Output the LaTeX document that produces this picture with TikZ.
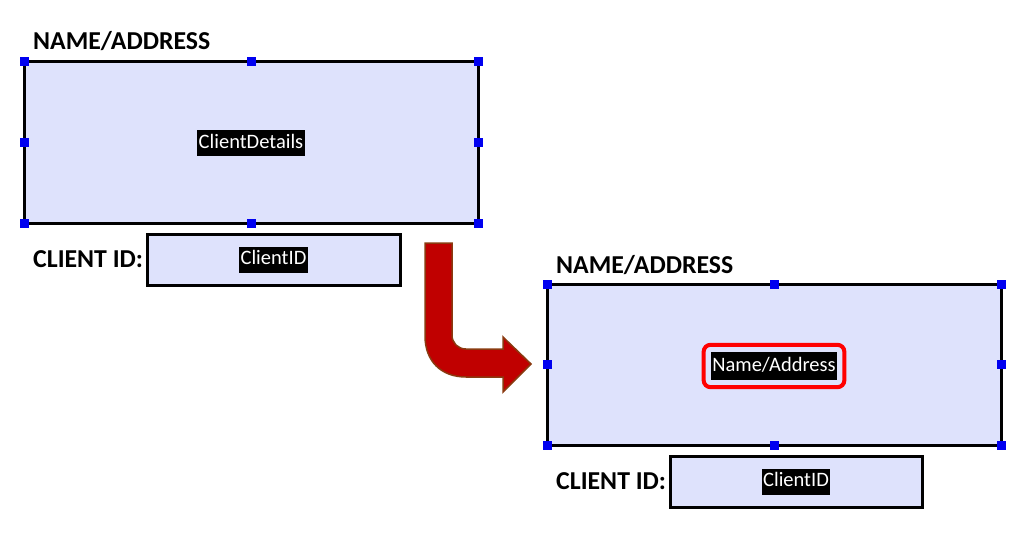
\documentclass[tikz,border=0pt]{standalone}
\usepackage{fontspec}
\setmainfont{Carlito}
\usetikzlibrary{fit}
\definecolor{boxfill}{HTML}{DEE2FC}
\definecolor{handleblue}{HTML}{0000F0}
\definecolor{arrowred}{HTML}{C00000}
\definecolor{arrowedge}{HTML}{8A3A10}
\definecolor{hlred}{HTML}{FF0000}
\begin{document}
\begin{tikzpicture}[x=1pt,y=-1pt,
  box/.style={draw=black, line width=3pt, fill=boxfill, inner sep=0pt, outer sep=0pt, anchor=north west},
  handle/.style={fill=handleblue, draw=none, minimum size=9pt, inner sep=0pt},
  hl/.style={fill=black, text=white, font=\fontsize{20.5}{24}\selectfont, inner xsep=1.5pt, inner ysep=3pt, text height=15pt, text depth=5pt},
  lab/.style={font=\bfseries\fontsize{25.8}{30}\selectfont, anchor=base west, inner sep=0pt},
  redframe/.style={draw=hlred, line width=4pt, rounded corners=7pt}]
\useasboundingbox (0,0) rectangle (1030,543);
% first group
\node[lab] (l1) at (33,50) {NAME/ADDRESS};
\node[box, minimum width=454pt, minimum height=161pt] (b1) at (24,62) {};
\foreach \a [count=\i] in {north west,north,north east,east,south east,south,south west,west}
  \node[handle] (h1-\i) at (b1.\a) {};
\node[hl] (cd) at (251,143) {ClientDetails};
\node[lab] (c1) at (33,267) {CLIENT ID:};
\node[box, minimum width=253pt, minimum height=51pt] (id1) at (147,234) {};
\node[hl] (cid1) at (id1.center) {ClientID};
% arrow
\path[fill=arrowred, draw=arrowedge, line width=1.5pt]
  (425,243) -- (452,243) -- (452,335) .. controls (452,343) and (458,349) .. (466,349)
  -- (503,349) -- (503,337) -- (531,364) -- (503,392) -- (503,377) -- (466,377)
  .. controls (441,377) and (425,361) .. (425,336) -- cycle;
% second group
\node[lab] (l2) at (556,273) {NAME/ADDRESS};
\node[box, minimum width=454pt, minimum height=161pt] (b2) at (547,284) {};
\foreach \a [count=\i] in {north west,north,north east,east,south east,south,south west,west}
  \node[handle] (h2-\i) at (b2.\a) {};
\node[hl, inner ysep=4pt] (na) at (774,366) {Name/Address};
\node[redframe, fit=(na), inner xsep=7pt, inner ysep=7pt] (rf) {};
\node[lab] (c2) at (556,489) {CLIENT ID:};
\node[box, minimum width=252pt, minimum height=51pt] (id2) at (670,456) {};
\node[hl] (cid2) at (id2.center) {ClientID};
\end{tikzpicture}
\end{document}
